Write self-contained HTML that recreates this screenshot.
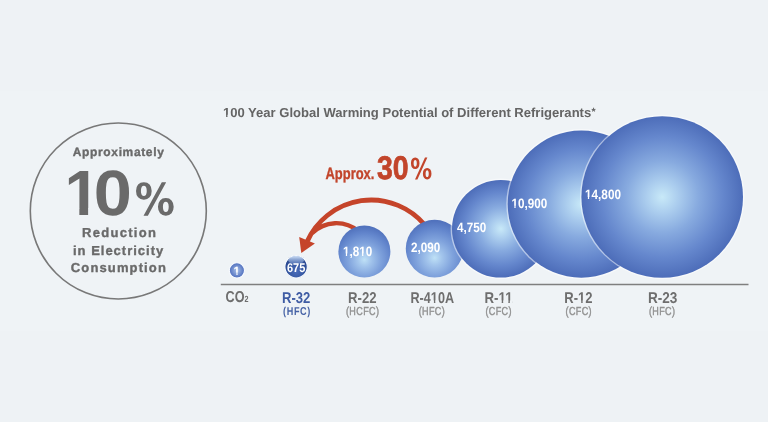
<!DOCTYPE html>
<html><head><meta charset="utf-8"><title>100 Year Global Warming Potential of Different Refrigerants</title>
<style>
html,body{margin:0;padding:0;background:#eef2f6;}
#w{position:relative;width:768px;height:422px;overflow:hidden;background:#eef2f6;}
svg{position:absolute;left:0;top:0;display:block;will-change:transform;}
text{font-family:"Liberation Sans",Arial,Helvetica,sans-serif;text-rendering:geometricPrecision;}
</style></head><body>
<div id="w">
<svg width="768" height="422" viewBox="0 0 768 422">
<defs>
<radialGradient id="g" cx="50%" cy="50%" r="50%">
<stop offset="0" stop-color="#c8e9f8"/>
<stop offset="0.2" stop-color="#abcdee"/>
<stop offset="0.45" stop-color="#87aadf"/>
<stop offset="0.75" stop-color="#6587cd"/>
<stop offset="1" stop-color="#4d6db9"/>
</radialGradient>
<radialGradient id="g2" cx="50%" cy="66%" r="64%">
<stop offset="0" stop-color="#bfe1f6"/>
<stop offset="0.2" stop-color="#a3c5ec"/>
<stop offset="0.5" stop-color="#7fa2dc"/>
<stop offset="0.8" stop-color="#6285cc"/>
<stop offset="1" stop-color="#5172bd"/>
</radialGradient>
<radialGradient id="gs" cx="50%" cy="50%" r="50%">
<stop offset="0" stop-color="#a8c0e8"/>
<stop offset="1" stop-color="#4d6dbd"/>
</radialGradient>
<radialGradient id="gd" cx="50%" cy="72%" r="62%">
<stop offset="0" stop-color="#4b6dbb"/>
<stop offset="0.6" stop-color="#34559f"/>
<stop offset="1" stop-color="#2a4890"/>
</radialGradient>
<linearGradient id="gh" x1="0" y1="0" x2="0" y2="1">
<stop offset="0" stop-color="#d0e2f8" stop-opacity="1"/>
<stop offset="1" stop-color="#8aa8dc" stop-opacity="0.3"/>
</linearGradient>
<clipPath id="cliptitle" clipPathUnits="userSpaceOnUse"><rect x="-20" y="-26.10" width="2000" height="23.97"/><rect x="-20" y="1.5" width="2000" height="13.05"/><rect x="-20.00" y="-2.13" width="19.70" height="3.63"/><rect x="3.20" y="-2.13" width="1.39" height="3.63"/><rect x="7.39" y="-2.13" width="2000.00" height="3.63"/></clipPath>
<clipPath id="clipr410" clipPathUnits="userSpaceOnUse"><rect x="-20" y="-31.20" width="2000" height="28.81"/><rect x="-20" y="1.5" width="2000" height="15.60"/><rect x="-20.00" y="-2.39" width="44.83" height="3.89"/><rect x="28.92" y="-2.39" width="1.74" height="3.89"/><rect x="33.96" y="-2.39" width="2000.00" height="3.89"/></clipPath>
<clipPath id="clipr11" clipPathUnits="userSpaceOnUse"><rect x="-20" y="-31.20" width="2000" height="28.81"/><rect x="-20" y="1.5" width="2000" height="15.60"/><rect x="-20.00" y="-2.39" width="36.15" height="3.89"/><rect x="20.24" y="-2.39" width="1.74" height="3.89"/><rect x="28.06" y="-2.39" width="1.74" height="3.89"/><rect x="33.10" y="-2.39" width="2000.00" height="3.89"/></clipPath>
<clipPath id="clipr12" clipPathUnits="userSpaceOnUse"><rect x="-20" y="-31.20" width="2000" height="28.81"/><rect x="-20" y="1.5" width="2000" height="15.60"/><rect x="-20.00" y="-2.39" width="36.15" height="3.89"/><rect x="20.24" y="-2.39" width="1.74" height="3.89"/><rect x="25.29" y="-2.39" width="2000.00" height="3.89"/></clipPath>
<clipPath id="clipb1" clipPathUnits="userSpaceOnUse"><rect x="-20" y="-24.00" width="2000" height="21.98"/><rect x="-20" y="1.5" width="2000" height="12.00"/><rect x="-20.00" y="-2.02" width="19.70" height="3.52"/><rect x="2.95" y="-2.02" width="1.25" height="3.52"/><rect x="6.80" y="-2.02" width="2000.00" height="3.52"/></clipPath>
<clipPath id="clipb1810" clipPathUnits="userSpaceOnUse"><rect x="-20" y="-27.20" width="2000" height="25.01"/><rect x="-20" y="1.5" width="2000" height="13.60"/><rect x="-20.00" y="-2.19" width="19.70" height="3.69"/><rect x="3.32" y="-2.19" width="1.47" height="3.69"/><rect x="7.70" y="-2.19" width="10.89" height="3.69"/><rect x="22.21" y="-2.19" width="1.47" height="3.69"/><rect x="26.59" y="-2.19" width="2000.00" height="3.69"/></clipPath>
<clipPath id="clipb10900" clipPathUnits="userSpaceOnUse"><rect x="-20" y="-27.20" width="2000" height="25.01"/><rect x="-20" y="1.5" width="2000" height="13.60"/><rect x="-20.00" y="-2.19" width="19.70" height="3.69"/><rect x="3.32" y="-2.19" width="1.47" height="3.69"/><rect x="7.70" y="-2.19" width="2000.00" height="3.69"/></clipPath>
<clipPath id="clipb14800" clipPathUnits="userSpaceOnUse"><rect x="-20" y="-27.20" width="2000" height="25.01"/><rect x="-20" y="1.5" width="2000" height="13.60"/><rect x="-20.00" y="-2.19" width="19.70" height="3.69"/><rect x="3.32" y="-2.19" width="1.47" height="3.69"/><rect x="7.70" y="-2.19" width="2000.00" height="3.69"/></clipPath>
<clipPath id="clipone" clipPathUnits="userSpaceOnUse"><rect x="-10" y="-76.80" width="76.80" height="70.27"/><rect x="14.94" y="-76.80" width="8.78" height="83.20"/></clipPath>
</defs>
<rect x="0" y="0" width="768" height="422" fill="#eef2f5"/>
<rect x="0" y="91" width="768" height="240" fill="#eff3f6"/>

<circle cx="118.3" cy="211" r="88" fill="none" stroke="#787878" stroke-width="1.6"/>

<g fill="none" stroke="#c5442a" stroke-width="4.8">
<path d="M424.4 224.5 A70.13 70.13 0 0 0 307.3 241.2"/>
<path d="M358.5 231.3 A34.43 34.43 0 0 0 312.0 233.3" stroke-width="4.3"/>
</g>
<path d="M299.2 236.9 L301.3 252.9 L314.9 243.4 Z" fill="#c5442a"/>

<circle cx="236.9" cy="270.4" r="7.6" fill="url(#gs)" stroke="#f8fbff" stroke-width="1.1"/>
<circle cx="296.1" cy="266.8" r="11.2" fill="url(#gd)" stroke="#f8fbff" stroke-width="1.1"/>
<ellipse cx="296.1" cy="260.3" rx="7.8" ry="4.3" fill="url(#gh)"/>
<circle cx="364.4" cy="251.5" r="26" fill="url(#g2)"/>
<circle cx="434.6" cy="248.6" r="28.8" fill="url(#g2)"/>
<circle cx="500.8" cy="228.8" r="50.2" fill="#ffffff" fill-opacity="0.5"/>
<circle cx="500.8" cy="228.8" r="48.8" fill="url(#g)"/>
<circle cx="581.3" cy="204.1" r="75.0" fill="#ffffff" fill-opacity="0.5"/>
<circle cx="581.3" cy="204.1" r="73.6" fill="url(#g)"/>
<circle cx="662.2" cy="197" r="82.2" fill="#ffffff" fill-opacity="0.5"/>
<circle cx="662.2" cy="197" r="80.8" fill="url(#g)"/>

<line x1="220.8" y1="284.5" x2="748.5" y2="284.5" stroke="#7f7f7f" stroke-width="1.4"/>

<text id="t_approx" transform="translate(72.80 156.20) scale(1.0000 1)" font-size="12.00" font-weight="700" fill="#6a6a6a" letter-spacing="0.64" stroke="#6a6a6a" stroke-width="0.35">Approximately</text>
<text id="t_one" transform="translate(64.40 214.50) scale(1.0000 1)" font-size="64.00" font-weight="700" fill="#6a6a6a" clip-path="url(#clipone)">1</text>
<text id="t_zero" transform="translate(93.80 214.50) scale(1.0700 1)" font-size="64.00" font-weight="700" fill="#6a6a6a">0</text>
<text id="t_pct" transform="translate(134.70 215.40) scale(0.9050 1)" font-size="44.30" font-weight="700" fill="#6a6a6a" style="font-family:'DejaVu Sans',sans-serif">%</text>
<text id="t_red" transform="translate(82.00 237.00) scale(1.0000 1)" font-size="13.00" font-weight="700" fill="#6a6a6a" letter-spacing="1.3" stroke="#6a6a6a" stroke-width="0.35">Reduction</text>
<text id="t_inel" transform="translate(73.00 254.90) scale(1.0000 1)" font-size="13.00" font-weight="700" fill="#6a6a6a" letter-spacing="0.99" stroke="#6a6a6a" stroke-width="0.35">in Electricity</text>
<text id="t_cons" transform="translate(70.80 272.40) scale(1.0000 1)" font-size="13.00" font-weight="700" fill="#6a6a6a" letter-spacing="1.13" stroke="#6a6a6a" stroke-width="0.35">Consumption</text>
<text id="t_title" transform="translate(222.90 117.00) scale(1.0000 1)" font-size="13.05" font-weight="700" fill="#646464" clip-path="url(#cliptitle)">100 Year Global Warming Potential of Different Refrigerants<tspan font-size="10.5" dx="0.4" dy="-2.2">*</tspan></text>
<text id="t_apx" transform="translate(325.50 178.75) scale(0.7900 1)" font-size="16.40" font-weight="700" fill="#c2452b" stroke="#c2452b" stroke-width="0.35">Approx.</text>
<text id="t_n30" transform="translate(377.00 179.00) scale(0.8670 1)" font-size="32.80" font-weight="700" fill="#c2452b" stroke="#c2452b" stroke-width="0.7">30</text>
<text id="t_pct30" transform="translate(410.30 179.20) scale(0.7550 1)" font-size="28.95" font-weight="700" fill="#c2452b" style="font-family:'DejaVu Sans',sans-serif">%</text>
<text id="t_co2" transform="translate(225.60 302.40) scale(0.8000 1)" font-size="15.80" font-weight="700" fill="#6e6e6e">CO<tspan font-size="9">2</tspan></text>
<text id="t_r32" transform="translate(282.00 302.80) scale(0.8400 1)" font-size="15.60" font-weight="700" fill="#3f5ca4">R-32</text>
<text id="t_r22" transform="translate(348.00 302.80) scale(0.8440 1)" font-size="15.60" font-weight="700" fill="#6e6e6e">R-22</text>
<text id="t_r410" transform="translate(410.50 302.80) scale(0.8100 1)" font-size="15.60" font-weight="700" fill="#6e6e6e" clip-path="url(#clipr410)">R-410A</text>
<text id="t_r11" transform="translate(484.50 302.80) scale(0.8500 1)" font-size="15.60" font-weight="700" fill="#6e6e6e" clip-path="url(#clipr11)">R-11</text>
<text id="t_r12" transform="translate(564.30 302.80) scale(0.8350 1)" font-size="15.60" font-weight="700" fill="#6e6e6e" clip-path="url(#clipr12)">R-12</text>
<text id="t_r23" transform="translate(648.00 302.80) scale(0.8700 1)" font-size="15.60" font-weight="700" fill="#6e6e6e">R-23</text>
<text id="t_h32" transform="translate(283.00 314.90) scale(0.8000 1)" font-size="11.40" font-weight="700" fill="#4763a6" letter-spacing="0.8">(HFC)</text>
<text id="t_h22" transform="translate(346.00 314.60) scale(0.7800 1)" font-size="11.60" font-weight="400" fill="#919191" letter-spacing="0.45" stroke="#919191" stroke-width="0.45">(HCFC)</text>
<text id="t_h410" transform="translate(418.70 314.60) scale(0.7800 1)" font-size="11.60" font-weight="400" fill="#919191" letter-spacing="0.45" stroke="#919191" stroke-width="0.45">(HFC)</text>
<text id="t_h11" transform="translate(485.50 314.60) scale(0.7800 1)" font-size="11.60" font-weight="400" fill="#919191" letter-spacing="0.45" stroke="#919191" stroke-width="0.45">(CFC)</text>
<text id="t_h12" transform="translate(565.60 314.60) scale(0.7800 1)" font-size="11.60" font-weight="400" fill="#919191" letter-spacing="0.45" stroke="#919191" stroke-width="0.45">(CFC)</text>
<text id="t_h23" transform="translate(649.00 314.60) scale(0.7800 1)" font-size="11.60" font-weight="400" fill="#919191" letter-spacing="0.45" stroke="#919191" stroke-width="0.45">(HFC)</text>
<text id="t_b1" transform="translate(233.60 274.50) scale(0.9500 1)" font-size="12.00" font-weight="700" fill="#ffffff" clip-path="url(#clipb1)">1</text>
<text id="t_b675" transform="translate(287.00 272.00) scale(0.8700 1)" font-size="12.60" font-weight="700" fill="#ffffff">675</text>
<text id="t_b1810" transform="translate(343.00 255.60) scale(0.8600 1)" font-size="13.60" font-weight="700" fill="#ffffff" clip-path="url(#clipb1810)">1,810</text>
<text id="t_b2090" transform="translate(411.00 252.20) scale(0.8600 1)" font-size="13.60" font-weight="700" fill="#ffffff">2,090</text>
<text id="t_b4750" transform="translate(457.00 232.10) scale(0.8600 1)" font-size="13.60" font-weight="700" fill="#ffffff">4,750</text>
<text id="t_b10900" transform="translate(511.50 207.90) scale(0.8600 1)" font-size="13.60" font-weight="700" fill="#ffffff" clip-path="url(#clipb10900)">10,900</text>
<text id="t_b14800" transform="translate(585.00 199.20) scale(0.8650 1)" font-size="13.60" font-weight="700" fill="#ffffff" clip-path="url(#clipb14800)">14,800</text>
</svg>
</div>
</body></html>
